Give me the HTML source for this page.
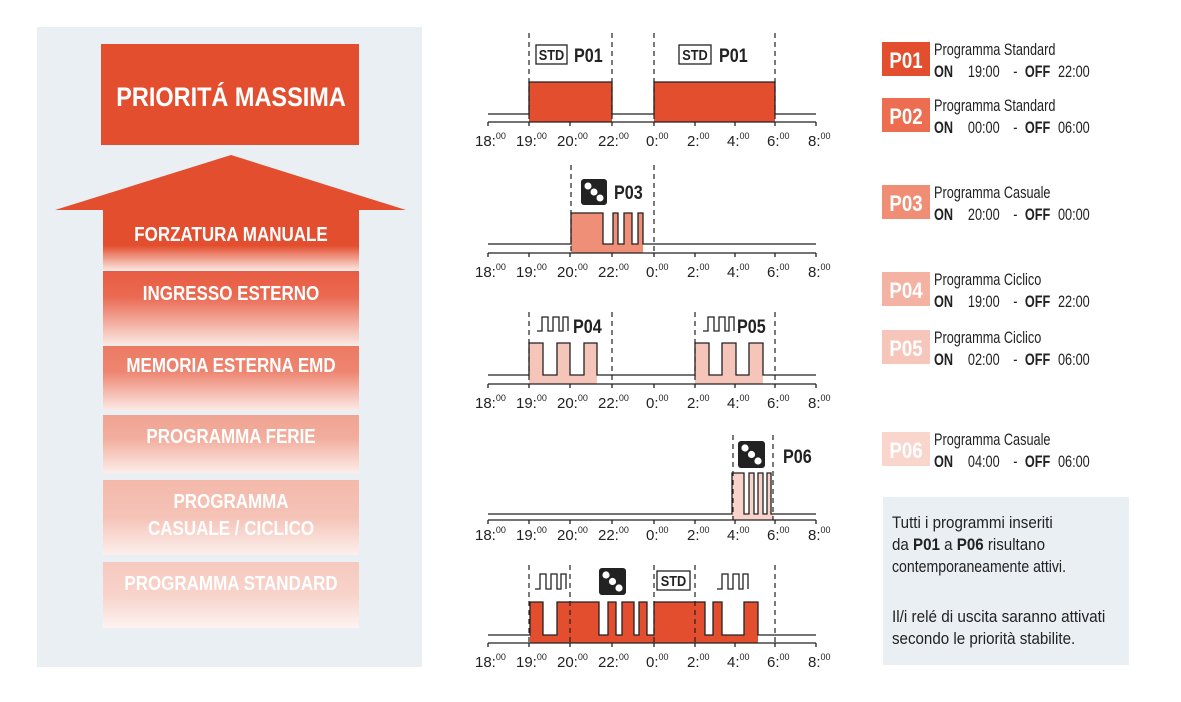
<!DOCTYPE html>
<html><head><meta charset="utf-8"><style>
html,body{margin:0;padding:0;background:#fff;}
svg{display:block;}
text{font-family:"Liberation Sans Narrow","Liberation Sans",sans-serif;}
.t{font-size:15px;fill:#222;}
.s{font-size:9px;fill:#222;}
.b{font-weight:bold;}
.w{fill:#fff;font-weight:bold;font-size:20px;}
.ax{stroke:#222;stroke-width:1.3;fill:none;}
.d{stroke:#222;stroke-width:1.2;stroke-dasharray:5,4;fill:none;}
.lg{font-size:16.5px;fill:#222;}
</style></head><body>
<svg width="1181" height="702" viewBox="0 0 1181 702" xmlns="http://www.w3.org/2000/svg">
<defs>
<linearGradient id="g1" x1="0" y1="0" x2="0" y2="1"><stop offset="0" stop-color="#e34e2f"/><stop offset="0.6" stop-color="#e34e2f"/><stop offset="1" stop-color="#fbe4de"/></linearGradient>
<linearGradient id="g2" x1="0" y1="0" x2="0" y2="1"><stop offset="0" stop-color="#e85c41"/><stop offset="0.35" stop-color="#ea6a52"/><stop offset="1" stop-color="#fbe7e2"/></linearGradient>
<linearGradient id="g3" x1="0" y1="0" x2="0" y2="1"><stop offset="0" stop-color="#ec7a62"/><stop offset="0.4" stop-color="#ee8570"/><stop offset="1" stop-color="#fbe9e5"/></linearGradient>
<linearGradient id="g4" x1="0" y1="0" x2="0" y2="1"><stop offset="0" stop-color="#f0a391"/><stop offset="0.4" stop-color="#f2ad9d"/><stop offset="1" stop-color="#fcede9"/></linearGradient>
<linearGradient id="g5" x1="0" y1="0" x2="0" y2="1"><stop offset="0" stop-color="#f4b9ab"/><stop offset="0.5" stop-color="#f5c3b7"/><stop offset="1" stop-color="#fcf0ed"/></linearGradient>
<linearGradient id="g6" x1="0" y1="0" x2="0" y2="1"><stop offset="0" stop-color="#f6c9be"/><stop offset="0.5" stop-color="#f8d3ca"/><stop offset="1" stop-color="#fdf3f1"/></linearGradient>
</defs>

<!-- left panel -->
<rect x="37" y="27" width="385" height="640" fill="#e9eff3"/>
<rect x="101" y="44" width="258" height="101" fill="#e34e2f"/>
<text transform="translate(231,106) scale(0.87,1)" text-anchor="middle" class="w" style="font-size:27px">PRIORITÁ MASSIMA</text>
<polygon points="231,155 406,210 103,210 55,210" fill="#e34e2f"/>
<rect x="103" y="209" width="256" height="61" fill="url(#g1)"/>
<rect x="103" y="271" width="256" height="74" fill="url(#g2)"/>
<rect x="103" y="346" width="256" height="64" fill="url(#g3)"/>
<rect x="103" y="415" width="256" height="58" fill="url(#g4)"/>
<rect x="103" y="480" width="256" height="75" fill="url(#g5)"/>
<rect x="103" y="562" width="256" height="66" fill="url(#g6)"/>
<g class="w" text-anchor="middle">
<text transform="translate(231,241) scale(0.85,1)">FORZATURA MANUALE</text>
<text transform="translate(231,300) scale(0.85,1)">INGRESSO ESTERNO</text>
<text transform="translate(231,372) scale(0.85,1)">MEMORIA ESTERNA EMD</text>
<text transform="translate(231,443) scale(0.85,1)">PROGRAMMA FERIE</text>
<text transform="translate(231,508) scale(0.85,1)">PROGRAMMA</text>
<text transform="translate(231,535) scale(0.85,1)">CASUALE / CICLICO</text>
<text transform="translate(231,590) scale(0.85,1)">PROGRAMMA STANDARD</text>
</g>

<!-- chart 1 -->
<rect x="529" y="82" width="83" height="40" fill="#e34e2f"/>
<rect x="654" y="82" width="121" height="40" fill="#e34e2f"/>
<polyline class="ax" points="488,114 529,114 529,82 612,82 612,114 654,114 654,82 775,82 775,114 816,114"/>
<g class="d"><line x1="529" y1="33" x2="529" y2="122"/><line x1="612" y1="33" x2="612" y2="122"/><line x1="654" y1="33" x2="654" y2="122"/><line x1="775" y1="33" x2="775" y2="122"/></g>
<rect x="536" y="45" width="31" height="19" fill="#fff" stroke="#222" stroke-width="1.3"/>
<text transform="translate(551.5,60) scale(0.85,1)" text-anchor="middle" class="t b">STD</text>
<text transform="translate(574,62) scale(0.85,1)" class="t b" style="font-size:19px">P01</text>
<rect x="679" y="45" width="32" height="19" fill="#fff" stroke="#222" stroke-width="1.3"/>
<text transform="translate(695,60) scale(0.85,1)" text-anchor="middle" class="t b">STD</text>
<text transform="translate(719,62) scale(0.85,1)" class="t b" style="font-size:19px">P01</text>

<!-- chart 2 -->
<polygon fill="#ef8f78" points="571,253 571,213 603,213 603,244 613,244 613,213 618,213 618,244 624,244 624,213 632,213 632,244 638,244 638,213 643,213 643,253"/>
<polyline class="ax" points="488,244 571,244 571,213 603,213 603,244 613,244 613,213 618,213 618,244 624,244 624,213 632,213 632,244 638,244 638,213 643,213 643,244 816,244"/>
<g class="d"><line x1="571" y1="165" x2="571" y2="253"/><line x1="654" y1="165" x2="654" y2="253"/></g>
<rect x="581" y="179" width="26" height="26" rx="3" fill="#222"/>
<circle cx="588" cy="186" r="3.5" fill="#fff"/><circle cx="594" cy="192" r="3.5" fill="#fff"/><circle cx="600" cy="198" r="3.5" fill="#fff"/>
<text transform="translate(614,199) scale(0.85,1)" class="t b" style="font-size:19px">P03</text>

<!-- chart 3 -->
<polygon fill="#f6c5b9" points="529,384 529,343 543,343 543,375 557,375 557,343 570,343 570,375 584,375 584,343 597,343 597,384"/>
<polygon fill="#f6c5b9" points="695,384 695,343 709,343 709,375 722,375 722,343 736,343 736,375 749,375 749,343 763,343 763,384"/>
<polyline class="ax" points="488,375 529,375 529,343 543,343 543,375 557,375 557,343 570,343 570,375 584,375 584,343 597,343 597,375 695,375 695,343 709,343 709,375 722,375 722,343 736,343 736,375 749,375 749,343 763,343 763,375 816,375"/>
<g class="d"><line x1="529" y1="312" x2="529" y2="384"/><line x1="612" y1="312" x2="612" y2="384"/><line x1="695" y1="312" x2="695" y2="384"/><line x1="775" y1="312" x2="775" y2="384"/></g>
<polyline class="ax" stroke-width="2.4" points="537,331 542,331 542,317 548,317 548,331 553,331 553,317 559,317 559,331 563,331 563,317 568,317 568,331"/>
<text transform="translate(573,333) scale(0.85,1)" class="t b" style="font-size:19px">P04</text>
<polyline class="ax" stroke-width="2.4" points="703,331 708,331 708,317 714,317 714,331 719,331 719,317 725,317 725,331 729,331 729,317 734,317 734,331"/>
<text transform="translate(737,333) scale(0.85,1)" class="t b" style="font-size:19px">P05</text>

<!-- chart 4 -->
<polygon fill="#f9d3ca" points="732,520 732,473 744,473 744,514 749,514 749,473 754,473 754,514 758,514 758,473 763,473 763,514 767,514 767,473 771,473 771,514 773,514 773,520"/>
<polyline class="ax" points="488,514 732,514 732,473 744,473 744,514 749,514 749,473 754,473 754,514 758,514 758,473 763,473 763,514 767,514 767,473 771,473 771,514 816,514"/>
<g class="d"><line x1="733" y1="435" x2="733" y2="520"/><line x1="773" y1="435" x2="773" y2="520"/></g>
<rect x="738" y="441" width="27" height="27" rx="3" fill="#222"/>
<circle cx="745" cy="448" r="3.6" fill="#fff"/><circle cx="751.5" cy="454.5" r="3.6" fill="#fff"/><circle cx="758" cy="461" r="3.6" fill="#fff"/>
<text transform="translate(783,463) scale(0.85,1)" class="t b" style="font-size:19px">P06</text>

<!-- chart 5 -->
<polygon fill="#e34e2f" points="530,643 530,602 543,602 543,635 557,635 557,602 599,602 599,635 608,635 608,602 616,602 616,635 622,635 622,602 634,602 634,635 639,635 639,602 647,602 647,635 654,635 654,602 705,602 705,635 713,635 713,602 722,602 722,635 744,635 744,602 758,602 758,643"/>
<polyline class="ax" points="488,635 530,635 530,602 543,602 543,635 557,635 557,602 599,602 599,635 608,635 608,602 616,602 616,635 622,635 622,602 634,602 634,635 639,635 639,602 647,602 647,635 654,635 654,602 705,602 705,635 713,635 713,602 722,602 722,635 744,635 744,602 758,602 758,635 816,635"/>
<g class="d"><line x1="529" y1="565" x2="529" y2="643"/><line x1="570" y1="565" x2="570" y2="643"/><line x1="654" y1="565" x2="654" y2="643"/><line x1="695" y1="565" x2="695" y2="643"/><line x1="775" y1="565" x2="775" y2="643"/></g>
<polyline class="ax" stroke-width="2.4" points="535,589 540,589 540,574 546,574 546,589 551,589 551,574 557,574 557,589 561,589 561,574 566,574 566,589"/>
<rect x="599" y="568" width="27" height="27" rx="3" fill="#222"/>
<circle cx="606" cy="575" r="3.6" fill="#fff"/><circle cx="612.5" cy="581.5" r="3.6" fill="#fff"/><circle cx="619" cy="588" r="3.6" fill="#fff"/>
<rect x="657" y="571" width="33" height="19" fill="#fff" stroke="#222" stroke-width="1.3"/>
<text transform="translate(673.5,586) scale(0.85,1)" text-anchor="middle" class="t b">STD</text>
<polyline class="ax" stroke-width="2.4" points="717,589 722,589 722,574 728,574 728,589 733,589 733,574 739,574 739,589 743,589 743,574 748,574 748,589"/>

<!-- axes -->
<g class="ax">
<line x1="488" y1="122" x2="816" y2="122"/><line x1="488" y1="253" x2="816" y2="253"/><line x1="488" y1="384" x2="816" y2="384"/><line x1="488" y1="520" x2="816" y2="520"/><line x1="488" y1="643" x2="816" y2="643"/>
</g>
<g class="ax" stroke-width="1">
<path d="M488,122v4M529,122v4M570,122v4M612,122v4M654,122v4M695,122v4M735,122v4M775,122v4M816,122v4"/>
<path d="M488,253v4M529,253v4M570,253v4M612,253v4M654,253v4M695,253v4M735,253v4M775,253v4M816,253v4"/>
<path d="M488,384v4M529,384v4M570,384v4M612,384v4M654,384v4M695,384v4M735,384v4M775,384v4M816,384v4"/>
<path d="M488,520v4M529,520v4M570,520v4M612,520v4M654,520v4M695,520v4M735,520v4M775,520v4M816,520v4"/>
<path d="M488,643v4M529,643v4M570,643v4M612,643v4M654,643v4M695,643v4M735,643v4M775,643v4M816,643v4"/>
</g>
<g class="t">
<text y="146"><tspan x="475">18:</tspan><tspan class="s" dy="-7">00</tspan><tspan x="516" dy="7">19:</tspan><tspan class="s" dy="-7">00</tspan><tspan x="557" dy="7">20:</tspan><tspan class="s" dy="-7">00</tspan><tspan x="598" dy="7">22:</tspan><tspan class="s" dy="-7">00</tspan><tspan x="646" dy="7">0:</tspan><tspan class="s" dy="-7">00</tspan><tspan x="687" dy="7">2:</tspan><tspan class="s" dy="-7">00</tspan><tspan x="727" dy="7">4:</tspan><tspan class="s" dy="-7">00</tspan><tspan x="767" dy="7">6:</tspan><tspan class="s" dy="-7">00</tspan><tspan x="808" dy="7">8:</tspan><tspan class="s" dy="-7">00</tspan></text>
<text y="277"><tspan x="475">18:</tspan><tspan class="s" dy="-7">00</tspan><tspan x="516" dy="7">19:</tspan><tspan class="s" dy="-7">00</tspan><tspan x="557" dy="7">20:</tspan><tspan class="s" dy="-7">00</tspan><tspan x="598" dy="7">22:</tspan><tspan class="s" dy="-7">00</tspan><tspan x="646" dy="7">0:</tspan><tspan class="s" dy="-7">00</tspan><tspan x="687" dy="7">2:</tspan><tspan class="s" dy="-7">00</tspan><tspan x="727" dy="7">4:</tspan><tspan class="s" dy="-7">00</tspan><tspan x="767" dy="7">6:</tspan><tspan class="s" dy="-7">00</tspan><tspan x="808" dy="7">8:</tspan><tspan class="s" dy="-7">00</tspan></text>
<text y="408"><tspan x="475">18:</tspan><tspan class="s" dy="-7">00</tspan><tspan x="516" dy="7">19:</tspan><tspan class="s" dy="-7">00</tspan><tspan x="557" dy="7">20:</tspan><tspan class="s" dy="-7">00</tspan><tspan x="598" dy="7">22:</tspan><tspan class="s" dy="-7">00</tspan><tspan x="646" dy="7">0:</tspan><tspan class="s" dy="-7">00</tspan><tspan x="687" dy="7">2:</tspan><tspan class="s" dy="-7">00</tspan><tspan x="727" dy="7">4:</tspan><tspan class="s" dy="-7">00</tspan><tspan x="767" dy="7">6:</tspan><tspan class="s" dy="-7">00</tspan><tspan x="808" dy="7">8:</tspan><tspan class="s" dy="-7">00</tspan></text>
<text y="540"><tspan x="475">18:</tspan><tspan class="s" dy="-7">00</tspan><tspan x="516" dy="7">19:</tspan><tspan class="s" dy="-7">00</tspan><tspan x="557" dy="7">20:</tspan><tspan class="s" dy="-7">00</tspan><tspan x="598" dy="7">22:</tspan><tspan class="s" dy="-7">00</tspan><tspan x="646" dy="7">0:</tspan><tspan class="s" dy="-7">00</tspan><tspan x="687" dy="7">2:</tspan><tspan class="s" dy="-7">00</tspan><tspan x="727" dy="7">4:</tspan><tspan class="s" dy="-7">00</tspan><tspan x="767" dy="7">6:</tspan><tspan class="s" dy="-7">00</tspan><tspan x="808" dy="7">8:</tspan><tspan class="s" dy="-7">00</tspan></text>
<text y="667"><tspan x="475">18:</tspan><tspan class="s" dy="-7">00</tspan><tspan x="516" dy="7">19:</tspan><tspan class="s" dy="-7">00</tspan><tspan x="557" dy="7">20:</tspan><tspan class="s" dy="-7">00</tspan><tspan x="598" dy="7">22:</tspan><tspan class="s" dy="-7">00</tspan><tspan x="646" dy="7">0:</tspan><tspan class="s" dy="-7">00</tspan><tspan x="687" dy="7">2:</tspan><tspan class="s" dy="-7">00</tspan><tspan x="727" dy="7">4:</tspan><tspan class="s" dy="-7">00</tspan><tspan x="767" dy="7">6:</tspan><tspan class="s" dy="-7">00</tspan><tspan x="808" dy="7">8:</tspan><tspan class="s" dy="-7">00</tspan></text>
</g>

<!-- legend -->
<g class="lg">
<rect x="882" y="42" width="48" height="34" fill="#e34e2f"/><text transform="translate(906,68) scale(0.85,1)" text-anchor="middle" class="w" style="font-size:22px">P01</text>
<text transform="translate(934,55) scale(0.77,1)">Programma Standard</text>
<text transform="translate(934,77) scale(0.77,1)"><tspan class="b">ON</tspan><tspan x="44">19:00</tspan><tspan x="103">-</tspan><tspan x="118" class="b">OFF</tspan><tspan x="161">22:00</tspan></text>

<rect x="882" y="98" width="48" height="34" fill="#ec6d50"/><text transform="translate(906,124) scale(0.85,1)" text-anchor="middle" class="w" style="font-size:22px">P02</text>
<text transform="translate(934,111) scale(0.77,1)">Programma Standard</text>
<text transform="translate(934,133) scale(0.77,1)"><tspan class="b">ON</tspan><tspan x="44">00:00</tspan><tspan x="103">-</tspan><tspan x="118" class="b">OFF</tspan><tspan x="161">06:00</tspan></text>

<rect x="882" y="185" width="48" height="34" fill="#f08d75"/><text transform="translate(906,211) scale(0.85,1)" text-anchor="middle" class="w" style="font-size:22px">P03</text>
<text transform="translate(934,198) scale(0.77,1)">Programma Casuale</text>
<text transform="translate(934,220) scale(0.77,1)"><tspan class="b">ON</tspan><tspan x="44">20:00</tspan><tspan x="103">-</tspan><tspan x="118" class="b">OFF</tspan><tspan x="161">00:00</tspan></text>

<rect x="882" y="272" width="48" height="34" fill="#f4b2a2"/><text transform="translate(906,298) scale(0.85,1)" text-anchor="middle" class="w" style="font-size:22px">P04</text>
<text transform="translate(934,285) scale(0.77,1)">Programma Ciclico</text>
<text transform="translate(934,307) scale(0.77,1)"><tspan class="b">ON</tspan><tspan x="44">19:00</tspan><tspan x="103">-</tspan><tspan x="118" class="b">OFF</tspan><tspan x="161">22:00</tspan></text>

<rect x="882" y="330" width="48" height="34" fill="#f7c6ba"/><text transform="translate(906,356) scale(0.85,1)" text-anchor="middle" class="w" style="font-size:22px">P05</text>
<text transform="translate(934,343) scale(0.77,1)">Programma Ciclico</text>
<text transform="translate(934,365) scale(0.77,1)"><tspan class="b">ON</tspan><tspan x="44">02:00</tspan><tspan x="103">-</tspan><tspan x="118" class="b">OFF</tspan><tspan x="161">06:00</tspan></text>

<rect x="882" y="432" width="48" height="34" fill="#f9d5cc"/><text transform="translate(906,458) scale(0.85,1)" text-anchor="middle" class="w" style="font-size:22px">P06</text>
<text transform="translate(934,445) scale(0.77,1)">Programma Casuale</text>
<text transform="translate(934,467) scale(0.77,1)"><tspan class="b">ON</tspan><tspan x="44">04:00</tspan><tspan x="103">-</tspan><tspan x="118" class="b">OFF</tspan><tspan x="161">06:00</tspan></text>
</g>

<rect x="883" y="497" width="246" height="168" fill="#e9eff3"/>
<g class="t" style="font-size:17px">
<text transform="translate(892,528) scale(0.89,1)">Tutti i programmi inseriti</text>
<text transform="translate(892,550) scale(0.89,1)">da <tspan class="b">P01</tspan> a <tspan class="b">P06</tspan> risultano</text>
<text transform="translate(892,572) scale(0.83,1)">contemporaneamente attivi.</text>
<text transform="translate(892,622) scale(0.9,1)">Il/i relé di uscita saranno attivati</text>
<text transform="translate(892,644) scale(0.89,1)">secondo le priorità stabilite.</text>
</g>
</svg>
</body></html>
